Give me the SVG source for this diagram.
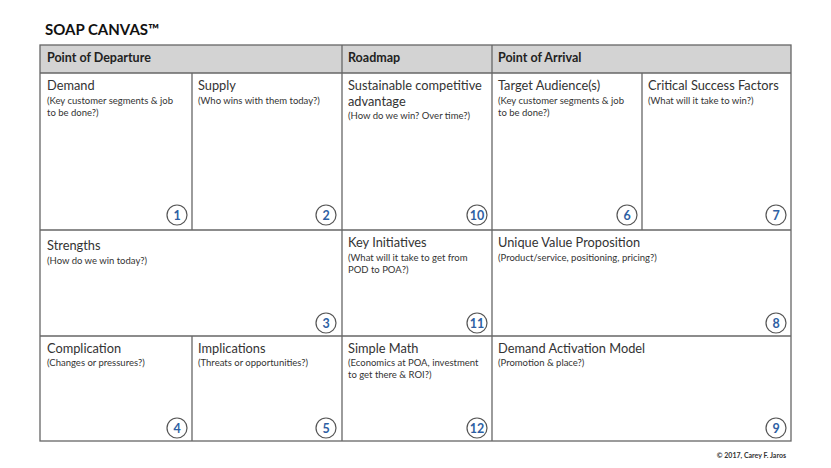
<svg xmlns="http://www.w3.org/2000/svg" width="831" height="468" viewBox="0 0 831 468">
<style>
text{font-family:Lato,"Open Sans","Liberation Sans",sans-serif;fill:#333}
.h{font-weight:bold;font-size:12.5px;fill:#222}
.t{font-size:12.8px;fill:#333}
.s{font-size:9.5px;fill:#333}
.ln{stroke:#666;stroke-width:1.3;fill:none}
.c{fill:#fff;stroke:#555;stroke-width:1.2}
.n{font-size:12.5px;font-weight:bold;fill:#2e5fa3;text-anchor:middle}
</style>
<rect width="831" height="468" fill="#fff"/>
<text x="45" y="35" style="font-weight:bold;font-size:15px;fill:#111">SOAP CANVAS™</text>
<g id="header">
<rect x="40" y="45" width="751" height="28" fill="#d3d3d3"/>
<text class="h" x="47" y="62">Point of Departure</text>
<text class="h" x="348" y="62">Roadmap</text>
<text class="h" x="498" y="62">Point of Arrival</text>
</g>
<g id="grid">
<rect class="ln" x="40" y="45" width="751" height="396"/>
<line class="ln" x1="40" y1="73" x2="791" y2="73"/>
<line class="ln" x1="40" y1="230" x2="791" y2="230"/>
<line class="ln" x1="40" y1="336" x2="791" y2="336"/>
<line class="ln" x1="342" y1="45" x2="342" y2="441"/>
<line class="ln" x1="492" y1="45" x2="492" y2="441"/>
<line class="ln" x1="192" y1="73" x2="192" y2="230"/>
<line class="ln" x1="642" y1="73" x2="642" y2="230"/>
<line class="ln" x1="192" y1="336" x2="192" y2="441"/>
</g>
<g id="demand"><text class="t" x="47" y="90">Demand</text><text class="s" x="47" y="104">(Key customer segments &amp; job</text><text class="s" x="47" y="116">to be done?)</text><circle class="c" cx="177" cy="215" r="10"/><text class="n" x="177" y="219.5">1</text></g>
<g id="supply"><text class="t" x="198" y="90">Supply</text><text class="s" x="198" y="104">(Who wins with them today?)</text><circle class="c" cx="326" cy="215" r="10"/><text class="n" x="326" y="219.5">2</text></g>
<g id="sca"><text class="t" x="348" y="90">Sustainable competitive</text><text class="t" x="348" y="106">advantage</text><text class="s" x="348" y="119">(How do we win? Over time?)</text><circle class="c" cx="477" cy="215" r="10"/><text class="n" x="477" y="219.5">10</text></g>
<g id="target"><text class="t" x="498" y="90">Target Audience(s)</text><text class="s" x="498" y="104">(Key customer segments &amp; job</text><text class="s" x="498" y="116">to be done?)</text><circle class="c" cx="627" cy="215" r="10"/><text class="n" x="627" y="219.5">6</text></g>
<g id="csf"><text class="t" x="648" y="90">Critical Success Factors</text><text class="s" x="648" y="104">(What will it take to win?)</text><circle class="c" cx="776" cy="215" r="10"/><text class="n" x="776" y="219.5">7</text></g>
<g id="strengths"><text class="t" x="47" y="250">Strengths</text><text class="s" x="47" y="264">(How do we win today?)</text><circle class="c" cx="326" cy="323" r="10"/><text class="n" x="326" y="327.5">3</text></g>
<g id="initiatives"><text class="t" x="348" y="247">Key Initiatives</text><text class="s" x="348" y="261">(What will it take to get from</text><text class="s" x="348" y="273">POD to POA?)</text><circle class="c" cx="477" cy="323" r="10"/><text class="n" x="477" y="327.5">11</text></g>
<g id="uvp"><text class="t" x="498" y="247">Unique Value Proposition</text><text class="s" x="498" y="261">(Product/service, positioning, pricing?)</text><circle class="c" cx="776" cy="323" r="10"/><text class="n" x="776" y="327.5">8</text></g>
<g id="complication"><text class="t" x="47" y="353">Complication</text><text class="s" x="47" y="366">(Changes or pressures?)</text><circle class="c" cx="177" cy="428" r="10"/><text class="n" x="177" y="432.5">4</text></g>
<g id="implications"><text class="t" x="198" y="353">Implications</text><text class="s" x="198" y="366">(Threats or opportunities?)</text><circle class="c" cx="326" cy="428" r="10"/><text class="n" x="326" y="432.5">5</text></g>
<g id="math"><text class="t" x="348" y="353">Simple Math</text><text class="s" x="348" y="366">(Economics at POA, investment</text><text class="s" x="348" y="378">to get there &amp; ROI?)</text><circle class="c" cx="477" cy="428" r="10"/><text class="n" x="477" y="432.5">12</text></g>
<g id="dam"><text class="t" x="498" y="353">Demand Activation Model</text><text class="s" x="498" y="366">(Promotion &amp; place?)</text><circle class="c" cx="776" cy="428" r="10"/><text class="n" x="776" y="432.5">9</text></g>
<text x="786" y="458" text-anchor="end" style="font-size:7px;font-weight:bold;fill:#333">© 2017, Carey F. Jaros</text>
</svg>
